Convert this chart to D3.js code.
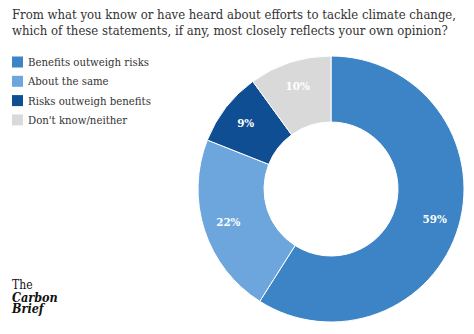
<!DOCTYPE html>
<html>
<head>
<meta charset="utf-8">
<script src="https://cdn.jsdelivr.net/npm/d3@7"></script>
<style>
  body { margin: 0; background: #fff; }
  svg { display: block; }
</style>
</head>
<body>
<svg></svg>
<script>
var width = 474,
    height = 334;

var titleLines = [
    "From what you know or have heard about efforts to tackle climate change,",
    "which of these statements, if any, most closely reflects your own opinion?"
];
var categories = ["Benefits outweigh risks", "About the same", "Risks outweigh benefits", "Don't know/neither"];
var values = [59, 22, 9, 10];
var colors = ["#3d84c6", "#6ca6dc", "#0f4e93", "#d9d9d9"];

var serif = "Georgia, 'DejaVu Serif Condensed', 'DejaVu Serif', serif";

var svg = d3.select("svg")
    .attr("width", width)
    .attr("height", height);

////////////////////////
//
// Title
//
////////////////////////

svg.selectAll(".title")
    .data(titleLines)
    .enter()
    .append("text")
    .attr("class", "title")
    .attr("x", 12)
    .attr("y", function(d, i) { return 18.5 + i * 16; })
    .attr("fill", "#333")
    .style("font-family", serif)
    .style("font-size", "13px")
    .text(function(d) { return d; });

////////////////////////
//
// Legend
//
////////////////////////

var legend = svg.selectAll(".legend")
    .data(categories)
    .enter()
    .append("g")
    .attr("class", "legend")
    .attr("transform", function(d, i) { return "translate(12," + (56.5 + i * 19.3) + ")"; });

legend.append("rect")
    .attr("width", 11)
    .attr("height", 11)
    .attr("fill", function(d, i) { return colors[i]; });

legend.append("text")
    .attr("x", 16)
    .attr("y", 9.5)
    .attr("fill", "#333")
    .style("font-family", serif)
    .style("font-size", "11.3px")
    .text(function(d) { return d; });

////////////////////////
//
// Donut
//
////////////////////////

var cx = 331, cy = 189,
    outer = 133, inner = 67;

var pie = d3.pie().sort(null).value(function(d) { return d; });
var arc = d3.arc().innerRadius(inner).outerRadius(outer);
var labelArc = d3.arc().innerRadius(108).outerRadius(108);

var donut = svg.append("g")
    .attr("transform", "translate(" + cx + "," + cy + ")");

var arcs = pie(values);

donut.selectAll(".slice")
    .data(arcs)
    .enter()
    .append("path")
    .attr("d", arc)
    .attr("fill", function(d, i) { return colors[i]; })
    .attr("stroke", "#fff")
    .attr("stroke-width", 1);

donut.selectAll(".label")
    .data(arcs)
    .enter()
    .append("text")
    .attr("transform", function(d) { return "translate(" + labelArc.centroid(d) + ")"; })
    .attr("text-anchor", "middle")
    .attr("dy", "0.35em")
    .attr("fill", "#fff")
    .style("font-family", serif)
    .style("font-size", "11.5px")
    .style("font-weight", "bold")
    .text(function(d) { return d.data + "%"; });

////////////////////////
//
// Logo
//
////////////////////////

var logo = svg.append("g")
    .attr("transform", "translate(12,0)")
    .style("font-family", serif)
    .attr("fill", "#111");

logo.append("text").attr("y", 288.5).style("font-size", "12px").text("The");
logo.append("text").attr("y", 301.5).style("font-size", "12.5px")
    .style("font-weight", "bold").style("font-style", "italic").text("Carbon");
logo.append("text").attr("y", 312.5).style("font-size", "12.5px")
    .style("font-weight", "bold").style("font-style", "italic").text("Brief");
</script>
</body>
</html>
